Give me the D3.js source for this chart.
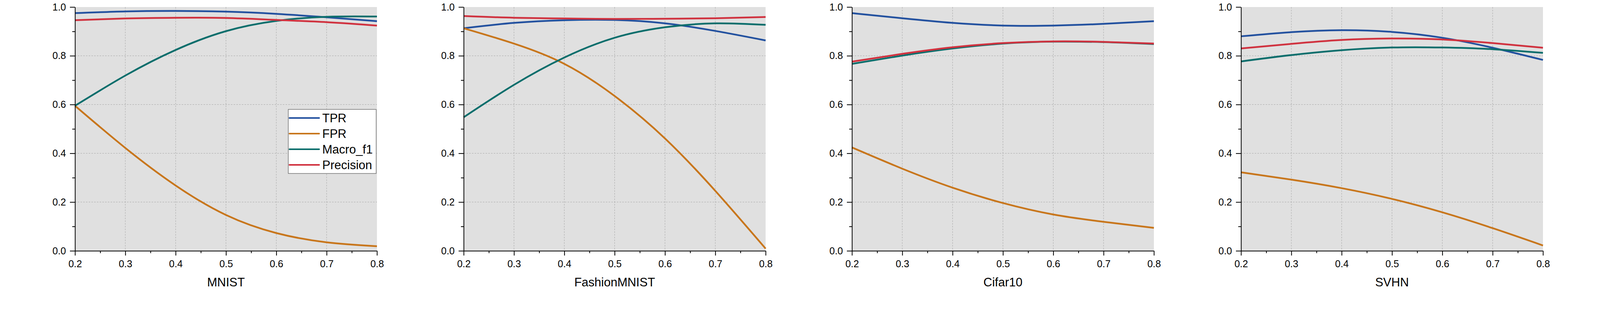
<!DOCTYPE html>
<html>
<head>
<meta charset="utf-8">
<script src="https://cdn.jsdelivr.net/npm/d3@7"></script>
<style>
  body { margin: 0; background: #fff; }
  svg { display: block; font-family: "Liberation Sans", Arial, sans-serif; }
</style>
</head>
<body>
<div id="chart"></div>
<script>
// x positions (ratio) shared by all panels
const ratios = [0.2, 0.3, 0.4, 0.5, 0.6, 0.7, 0.8];
const datasets = ["MNIST", "FashionMNIST", "Cifar10", "SVHN"];
const seriesNames = ["TPR", "FPR", "Macro_f1", "Precision"];
const xTicks = [0.2, 0.3, 0.4, 0.5, 0.6, 0.7, 0.8];
const yTicks = [0.0, 0.2, 0.4, 0.6, 0.8, 1.0];

// values, one array per dataset and metric
const mnistTPR = [0.975, 0.982, 0.984, 0.981, 0.972, 0.958, 0.942];
const mnistFPR = [0.595, 0.422, 0.268, 0.147, 0.073, 0.035, 0.019];
const mnistF1 = [0.595, 0.719, 0.824, 0.901, 0.943, 0.960, 0.961];
const mnistPrec = [0.946, 0.953, 0.956, 0.955, 0.947, 0.938, 0.924];

const fashionTPR = [0.913, 0.935, 0.946, 0.947, 0.933, 0.902, 0.863];
const fashionFPR = [0.913, 0.850, 0.767, 0.635, 0.461, 0.246, 0.009];
const fashionF1 = [0.548, 0.681, 0.793, 0.874, 0.917, 0.933, 0.927];
const fashionPrec = [0.963, 0.956, 0.953, 0.951, 0.952, 0.954, 0.959];

const cifarTPR = [0.975, 0.954, 0.935, 0.924, 0.924, 0.931, 0.942];
const cifarFPR = [0.424, 0.337, 0.259, 0.196, 0.149, 0.119, 0.094];
const cifarF1 = [0.767, 0.801, 0.830, 0.850, 0.858, 0.856, 0.848];
const cifarPrec = [0.776, 0.808, 0.835, 0.852, 0.859, 0.857, 0.850];

const svhnTPR = [0.880, 0.897, 0.905, 0.898, 0.874, 0.833, 0.783];
const svhnFPR = [0.322, 0.292, 0.257, 0.213, 0.158, 0.093, 0.022];
const svhnF1 = [0.777, 0.803, 0.823, 0.834, 0.834, 0.827, 0.812];
const svhnPrec = [0.830, 0.849, 0.865, 0.871, 0.867, 0.852, 0.833];

const panelValues = [
    [mnistTPR, mnistFPR, mnistF1, mnistPrec],
    [fashionTPR, fashionFPR, fashionF1, fashionPrec],
    [cifarTPR, cifarFPR, cifarF1, cifarPrec],
    [svhnTPR, svhnFPR, svhnF1, svhnPrec]
];

const colors = ["#23519f", "#c8761c", "#0c6e6c", "#d0323f"];

const W = 4104, H = 860;
const panelLeft = [192, 1187, 2181, 3177];
const plotW = 773;
const plotTop = 18, plotBottom = 642;

const svg = d3.select("#chart").append("svg")
    .attr("width", W)
    .attr("height", H);

const yScale = d3.scaleLinear().domain([0, 1]).range([plotBottom, plotTop]);

datasets.forEach((name, p) => {
    const g = svg.append("g").attr("transform", `translate(${panelLeft[p]},0)`);
    const xScale = d3.scaleLinear().domain([0.2, 0.8]).range([0, plotW]);

    // plot background
    g.append("rect")
        .attr("x", 0).attr("y", plotTop)
        .attr("width", plotW).attr("height", plotBottom - plotTop)
        .attr("fill", "#e0e0e0");

    // dashed grid
    g.selectAll(".vgrid")
        .data(xTicks.filter(d => d > 0.2 && d < 0.8))
        .enter().append("line")
        .attr("x1", d => xScale(d)).attr("x2", d => xScale(d))
        .attr("y1", plotTop).attr("y2", plotBottom)
        .attr("stroke", "#a6a6a6").attr("stroke-width", 1)
        .attr("stroke-dasharray", "4,3");
    g.selectAll(".hgrid")
        .data(yTicks.filter(d => d > 0 && d < 1))
        .enter().append("line")
        .attr("x1", 0).attr("x2", plotW)
        .attr("y1", d => yScale(d)).attr("y2", d => yScale(d))
        .attr("stroke", "#a6a6a6").attr("stroke-width", 1)
        .attr("stroke-dasharray", "4,3");

    // curves
    const line = d3.line()
        .x((d, i) => xScale(ratios[i]))
        .y(d => yScale(d))
        .curve(d3.curveNatural);
    panelValues[p].forEach((vals, s) => {
        g.append("path")
            .attr("d", line(vals))
            .attr("fill", "none")
            .attr("stroke", colors[s])
            .attr("stroke-width", 4.5);
    });

    // minor ticks
    g.append("g")
        .attr("transform", `translate(0,${plotBottom})`)
        .call(d3.axisBottom(xScale).tickValues([0.25, 0.35, 0.45, 0.55, 0.65, 0.75]).tickSize(6).tickFormat(""))
        .call(a => a.select(".domain").remove())
        .call(a => a.selectAll("line").attr("stroke-width", 2));
    g.append("g")
        .call(d3.axisLeft(yScale).tickValues([0.1, 0.3, 0.5, 0.7, 0.9]).tickSize(7).tickFormat(""))
        .call(a => a.select(".domain").remove())
        .call(a => a.selectAll("line").attr("stroke-width", 2));

    // major axes
    g.append("g")
        .attr("transform", `translate(0,${plotBottom})`)
        .call(d3.axisBottom(xScale).tickValues(xTicks).tickSize(12).tickSizeOuter(0).tickPadding(12).tickFormat(d3.format(".1f")))
        .call(a => a.select(".domain").attr("stroke-width", 2))
        .call(a => a.selectAll("line").attr("stroke-width", 2))
        .call(a => a.selectAll("text").attr("font-size", 25).attr("fill", "#000")
            .attr("font-family", "Liberation Sans, Arial, sans-serif"));
    g.append("g")
        .call(d3.axisLeft(yScale).tickValues(yTicks).tickSize(13).tickSizeOuter(0).tickPadding(10).tickFormat(d3.format(".1f")))
        .call(a => a.select(".domain").attr("stroke-width", 2))
        .call(a => a.selectAll("line").attr("stroke-width", 2))
        .call(a => a.selectAll("text").attr("font-size", 25).attr("fill", "#000")
            .attr("font-family", "Liberation Sans, Arial, sans-serif"));

    // x title
    g.append("text")
        .attr("x", plotW / 2)
        .attr("y", 733)
        .attr("text-anchor", "middle")
        .attr("font-size", 31)
        .text(name);

    // legend only in the first panel
    if (p === 0) {
        const lg = g.append("g").attr("transform", `translate(${738 - panelLeft[0]},280)`);
        lg.append("rect")
            .attr("width", 225).attr("height", 164)
            .attr("fill", "#fff").attr("stroke", "#555").attr("stroke-width", 1.2);
        seriesNames.forEach((s, i) => {
            const cy = 22 + i * 40;
            lg.append("line")
                .attr("x1", 3).attr("x2", 79)
                .attr("y1", cy).attr("y2", cy)
                .attr("stroke", colors[i]).attr("stroke-width", 4)
                .attr("stroke-linecap", "round");
            lg.append("text")
                .attr("x", 87).attr("y", cy + 11)
                .attr("font-size", 31)
                .text(s);
        });
    }
});
</script>
</body>
</html>
